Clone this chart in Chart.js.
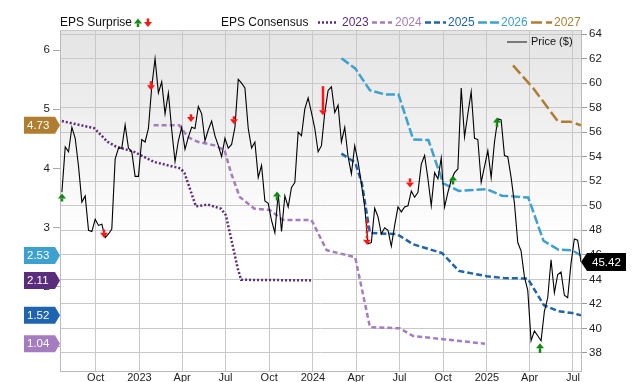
<!DOCTYPE html>
<html><head><meta charset="utf-8">
<script src="https://cdn.jsdelivr.net/npm/chart.js@4.4.0/dist/chart.umd.min.js"></script>
<style>html,body{margin:0;padding:0;background:#fff;}canvas{display:block;}</style>
</head><body>
<canvas id="c" width="640" height="382"></canvas>
<script>
// ---------------- DATA ----------------
const xStart = '2022-07-18', xEnd = '2025-07-18';
const xTickDates = ['2022-10-01','2023-01-01','2023-04-01','2023-07-01','2023-10-01','2024-01-01','2024-04-01','2024-07-01','2024-10-01','2025-01-01','2025-04-01','2025-07-01'];
const xTickLabels = ['Oct','2023','Apr','Jul','Oct','2024','Apr','Jul','Oct','2025','Apr','Jul'];
const priceTicks = [38,40,42,44,46,48,50,52,54,56,58,60,62,64];
const epsTicks = [1,2,3,4,5,6];

// weekly closing price, first week below
const priceStart = '2022-07-22';
const price = [51.1,54.8,54.4,56.4,55.5,53.2,50.3,50.8,48.0,47.9,48.9,48.4,48.5,47.4,47.7,48.1,53.8,54.7,54.7,56.6,
54.7,54.4,52.4,52.4,55.4,55.2,56.3,59.7,62.0,59.2,60.1,57.5,59.2,56.2,53.6,55.3,56.4,54.6,55.6,56.4,
56.3,58.1,57.5,55.3,56.2,56.9,55.7,54.9,54.0,55.5,54.7,55.0,56.4,60.3,60.0,59.6,56.3,54.7,55.2,52.3,
53.3,50.4,50.2,48.8,47.8,51.0,47.9,50.8,49.9,51.5,51.9,56.0,55.7,57.9,58.8,57.6,56.3,54.4,54.9,57.6,
59.4,59.7,57.6,58.2,55.2,56.4,54.0,52.6,54.9,53.6,51.8,49.9,46.9,47.0,49.8,49.1,47.7,48.2,48.0,46.7,
48.4,49.9,49.5,49.9,50.0,51.2,50.7,51.1,53.4,54.1,52.2,50.0,52.7,52.2,53.9,49.9,51.1,52.1,52.7,53.0,
59.6,55.6,57.5,59.3,55.5,55.4,51.9,53.2,54.5,52.3,55.2,57.1,57.0,54.1,54.0,52.3,50.2,47.0,46.3,44.2,
43.1,39.0,39.8,39.4,39.0,41.4,42.5,45.6,42.9,44.4,44.6,42.7,42.5,45.3,47.3,47.2,45.42];

// EPS consensus by fiscal year
const c2023Dates = ['2022-07-22','2022-09-28','2022-10-26','2022-11-13','2022-12-21','2023-02-01','2023-03-29','2023-04-06','2023-04-30','2023-05-25','2023-06-22','2023-07-02','2023-07-27','2023-08-03','2023-12-28'];
const c2023 = [4.80,4.68,4.45,4.37,4.28,4.11,4.00,3.92,3.36,3.39,3.32,3.21,2.31,2.12,2.11];
const c2024Dates = ['2023-01-31','2023-03-26','2023-04-13','2023-05-04','2023-06-08','2023-06-29','2023-07-13','2023-07-31','2023-08-31','2023-10-02','2023-10-30','2023-12-29','2024-01-30','2024-03-30','2024-04-30','2024-07-02','2024-07-30','2024-10-22','2024-12-28'];
const c2024 = [4.73,4.73,4.53,4.45,4.39,4.31,3.92,3.52,3.32,3.30,3.13,3.13,2.62,2.50,1.32,1.30,1.17,1.10,1.04];
const c2025Dates = ['2024-03-01','2024-03-30','2024-04-13','2024-04-30','2024-06-26','2024-07-30','2024-09-29','2024-11-03','2025-01-01','2025-02-05','2025-03-28','2025-05-01','2025-05-31','2025-06-29','2025-07-18'];
const c2025 = [4.25,4.10,3.75,2.91,2.89,2.72,2.57,2.27,2.18,2.15,2.14,1.69,1.59,1.56,1.52];
const c2026Dates = ['2024-03-01','2024-03-30','2024-04-30','2024-06-01','2024-06-29','2024-07-30','2024-08-31','2024-10-01','2024-11-03','2025-01-01','2025-02-02','2025-03-29','2025-04-30','2025-05-31','2025-06-29','2025-07-18'];
const c2026 = [5.86,5.69,5.32,5.25,5.25,4.49,4.48,3.75,3.62,3.65,3.54,3.51,2.78,2.63,2.62,2.53];
const c2027Dates = ['2025-02-25','2025-04-09','2025-05-31','2025-06-25','2025-07-18'];
const c2027 = [5.74,5.35,4.79,4.79,4.73];

// EPS surprise arrows (price level of tail and head)
const surpriseDates = ['2022-07-22','2022-10-19','2023-01-26','2023-04-20','2023-07-20','2023-10-18','2024-01-23','2024-04-24','2024-07-24','2024-10-22','2025-01-23','2025-04-22'];
const surpriseDir   = ['up','down','down','down','down','up','down','down','down','up','up','up'];
const surpriseFrom  = [50.35,48.06,60.16,57.46,57.30,50.43,59.75,48.80,52.23,51.74,56.40,38.00];
const surpriseTo    = [51.00,47.40,59.42,56.82,56.65,51.16,57.38,46.83,51.50,52.47,57.20,38.80];

// ---------------- HELPERS ----------------
const DAY = 86400000;
const base = Date.UTC(2022,6,18);
function day(s){const p=s.split('-').map(Number);return (Date.UTC(p[0],p[1]-1,p[2])-base)/DAY;}
const pts = (dates, vals) => dates.map((d,i)=>({x:day(d), y:vals[i]}));
const pricePts = price.map((v,i)=>({x:day(priceStart)+7*i, y:v}));

const FONT = 'Liberation Sans, Arial, sans-serif';
Chart.defaults.font.family = FONT;

const COL = {c2023:'#5c2c7c', c2024:'#a67cc0', c2025:'#1f64ae', c2026:'#3ca0d1', c2027:'#b07e30', up:'#118a11', down:'#ff1414'};
const DASH = {c2023:[2,2], c2024:[5,3], c2025:[6,3], c2026:[9,3], c2027:[11,4]};

function drawArrow(ctx, x, y1, y2, color, dashed){
  const dir = Math.sign(y2-y1) || 1, hh = 5, hw = 4;
  ctx.save();
  ctx.strokeStyle = color; ctx.fillStyle = color; ctx.lineWidth = 2.5;
  if (dashed) ctx.setLineDash([3,2]);
  ctx.beginPath(); ctx.moveTo(x, y1); ctx.lineTo(x, y2 - dir*hh); ctx.stroke();
  ctx.setLineDash([]);
  ctx.beginPath(); ctx.moveTo(x-hw, y2-dir*hh); ctx.lineTo(x+hw, y2-dir*hh); ctx.lineTo(x, y2); ctx.closePath(); ctx.fill();
  ctx.restore();
}

const custom = {
  id:'custom',
  beforeDraw(chart){
    const {ctx, chartArea:a} = chart;
    const g = ctx.createLinearGradient(0,a.top,0,a.bottom);
    g.addColorStop(0,'#e4e4e4'); g.addColorStop(0.62,'#ffffff'); g.addColorStop(1,'#ffffff');
    ctx.save(); ctx.fillStyle = g; ctx.fillRect(a.left,a.top,a.right-a.left,a.bottom-a.top); ctx.restore();
  },
  beforeDatasetsDraw(chart){
    const {ctx, chartArea:a} = chart;
    ctx.save(); ctx.strokeStyle='#c8c8c8'; ctx.lineWidth=1;
    ctx.beginPath(); ctx.moveTo(a.left, a.top+0.5); ctx.lineTo(a.right, a.top+0.5); ctx.stroke();
    ctx.restore();
  },
  afterDatasetsDraw(chart){
    const {ctx} = chart, xs = chart.scales.x, ps = chart.scales.price;
    surpriseDates.forEach((d,i)=>{
      const x = Math.round(xs.getPixelForValue(day(d)));
      drawArrow(ctx, x, ps.getPixelForValue(surpriseFrom[i]), ps.getPixelForValue(surpriseTo[i]),
        surpriseDir[i]==='up'?COL.up:COL.down, i===7);
    });
  },
  afterDraw(chart){
    const {ctx, chartArea:a} = chart, es = chart.scales.eps, ps = chart.scales.price;
    ctx.save();
    // EPS badges on left
    const badges = [[c2027,COL.c2027],[c2026,COL.c2026],[c2023,COL.c2023],[c2025,COL.c2025],[c2024,COL.c2024]];
    ctx.font = '11.5px '+FONT; ctx.textBaseline='middle'; ctx.textAlign='left';
    badges.forEach(([arr,col])=>{
      const v = arr[arr.length-1], y = es.getPixelForValue(v);
      ctx.fillStyle = col;
      ctx.beginPath(); ctx.moveTo(24,y-8.5); ctx.lineTo(55,y-8.5); ctx.lineTo(60,y); ctx.lineTo(55,y+8.5); ctx.lineTo(24,y+8.5); ctx.closePath(); ctx.fill();
      ctx.fillStyle = '#fff'; ctx.fillText(v.toFixed(2), 27, y+0.5);
    });
    // price badge on right
    const pv = price[price.length-1], py = ps.getPixelForValue(pv);
    ctx.fillStyle = '#000';
    ctx.beginPath(); ctx.moveTo(a.right,py); ctx.lineTo(a.right+6,py-9); ctx.lineTo(626,py-9); ctx.lineTo(626,py+9); ctx.lineTo(a.right+6,py+9); ctx.closePath(); ctx.fill();
    ctx.fillStyle = '#fff'; ctx.font = '11.5px '+FONT; ctx.fillText(pv.toFixed(2), 592, py+0.5);
    // top legend
    ctx.fillStyle = '#111'; ctx.font = '12px '+FONT; ctx.textBaseline='middle';
    ctx.fillText('EPS Surprise', 60, 23);
    drawArrow(ctx, 138, 27, 18.5, COL.up, false);
    drawArrow(ctx, 148, 18.5, 27, COL.down, false);
    ctx.fillStyle = '#111'; ctx.fillText('EPS Consensus', 221, 23);
    const leg = [['c2023',318,338,342,'2023'],['c2024',372,392,395,'2024'],['c2025',425,446,448,'2025'],['c2026',478,499,501,'2026'],['c2027',531,552,554,'2027']];
    leg.forEach(([k,x1,x2,tx,t])=>{
      ctx.strokeStyle = COL[k]; ctx.lineWidth = 2.5; ctx.setLineDash(DASH[k]);
      ctx.beginPath(); ctx.moveTo(x1,22.5); ctx.lineTo(x2,22.5); ctx.stroke(); ctx.setLineDash([]);
      ctx.fillStyle = COL[k]; ctx.fillText(t, tx, 23);
    });
    // price legend
    ctx.strokeStyle = '#555'; ctx.lineWidth = 1.5;
    ctx.beginPath(); ctx.moveTo(507,42); ctx.lineTo(527,42); ctx.stroke();
    ctx.fillStyle = '#111'; ctx.font = '11px '+FONT; ctx.fillText('Price ($)', 531, 42);
    ctx.restore();
  }
};

const consensusDS = (label, dates, vals, key) => ({
  label, data: pts(dates, vals), yAxisID:'eps', borderColor: COL[key], borderWidth: 2.5,
  borderDash: DASH[key], pointRadius:0, fill:false, tension:0
});

new Chart(document.getElementById('c'), {
  type:'line',
  data:{datasets:[
    {label:'Price ($)', data: pricePts, yAxisID:'price', borderColor:'#000', borderWidth:1.1, pointRadius:0, fill:false, tension:0},
    consensusDS('2023', c2023Dates, c2023, 'c2023'),
    consensusDS('2024', c2024Dates, c2024, 'c2024'),
    consensusDS('2025', c2025Dates, c2025, 'c2025'),
    consensusDS('2026', c2026Dates, c2026, 'c2026'),
    consensusDS('2027', c2027Dates, c2027, 'c2027')
  ]},
  options:{
    responsive:false, animation:false, devicePixelRatio:1,
    layout:{padding:{top:30,left:0,right:0,bottom:0}},
    plugins:{legend:{display:false}, tooltip:{enabled:false}},
    scales:{
      x:{type:'linear', min:day(xStart), max:day(xEnd),
        afterBuildTicks: s => { s.ticks = xTickDates.map(d=>({value:day(d)})); },
        afterFit: s => { s.height = 11; },
        ticks:{autoSkip:false, maxRotation:0, padding:0, color:'#222', font:{size:11},
          callback:(v,i)=>xTickLabels[i]},
        grid:{color:'#c8c8c8', drawTicks:false},
        border:{color:'#bbb'}
      },
      eps:{type:'linear', position:'left', min:0.58, max:6.338,
        afterBuildTicks: s => { s.ticks = epsTicks.map(v=>({value:v})); },
        afterFit: s => { s.width = 60; },
        ticks:{padding:3, color:'#222', font:{size:11.5}},
        grid:{drawOnChartArea:false, tickLength:7, color:'#aaa'},
        border:{color:'#bbb'}
      },
      price:{type:'linear', position:'right', min:36.53, max:64.33,
        afterBuildTicks: s => { s.ticks = priceTicks.map(v=>({value:v})); },
        afterFit: s => { s.width = 59; },
        ticks:{padding:2, color:'#222', font:{size:11.5}},
        grid:{color:'#c8c8c8', tickLength:6, tickColor:'#999'},
        border:{color:'#bbb'}
      }
    }
  },
  plugins:[custom]
});
</script>
</body></html>
